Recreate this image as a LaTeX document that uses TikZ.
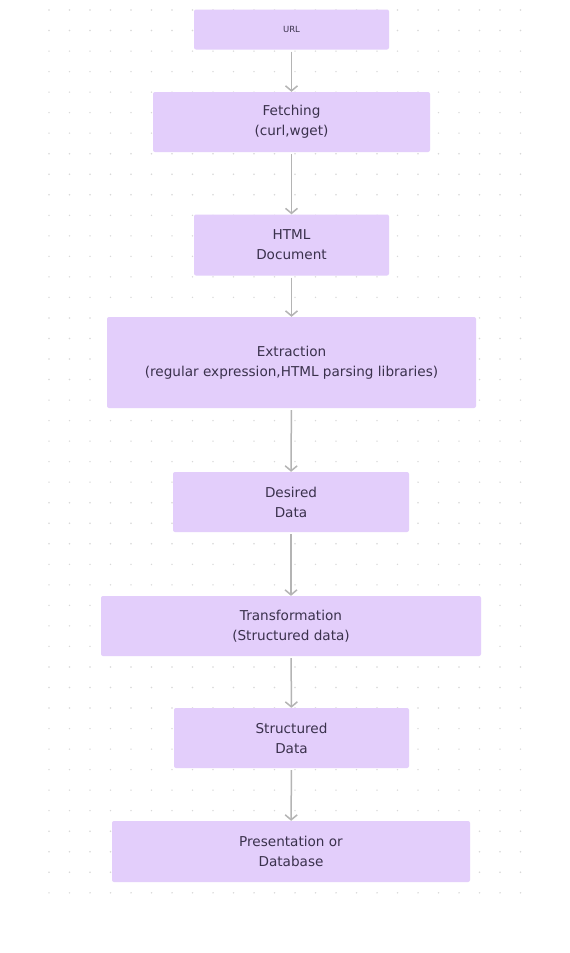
\documentclass[tikz,border=0pt]{standalone}
\usepackage{fontspec}
\setmainfont{DejaVu Sans}
\usetikzlibrary{arrows.meta}
\definecolor{boxfill}{HTML}{E3CEFB}
\definecolor{txt}{HTML}{3A314C}
\definecolor{arrowgray}{HTML}{B4B4B4}
\definecolor{dotgray}{HTML}{D8D8D8}
\begin{document}
\begin{tikzpicture}[x=1pt,y=-1pt,
  box/.style={fill=boxfill, rounded corners=2pt, inner sep=0pt, align=center, text=txt,
    font=\fontsize{13.6}{20}\selectfont},
  arr/.style={draw=arrowgray, line width=1.5pt, -{Straight Barb[length=5pt,width=12pt]}, shorten <=2pt}]
\useasboundingbox (0,0) rectangle (570,953);
\fill[white] (0,0) rectangle (570,953);
\foreach \i in {0,...,23} \foreach \j in {0,...,43} \fill[dotgray] (49+20.5*\i, 10+20.53*\j) circle (0.8pt);
\node[box, minimum width=195pt, minimum height=40pt, font=\fontsize{8.5}{10}\selectfont] (url) at (291.5,29.5) {URL};
\node[box, minimum width=277pt, minimum height=60pt] (fetch) at (291.5,122) {Fetching\\(curl,wget)};
\node[box, minimum width=195pt, minimum height=61pt] (html) at (291.5,245) {HTML\\Document};
\node[box, minimum width=369pt, minimum height=91pt] (extr) at (291.5,362.5) {Extraction\\(regular expression,HTML parsing libraries)};
\node[box, minimum width=236pt, minimum height=60pt] (desired) at (291,502) {Desired\\Data};
\node[box, minimum width=380pt, minimum height=60pt] (trans) at (291,626) {Transformation\\(Structured data)};
\node[box, minimum width=235pt, minimum height=60pt] (struct) at (291.5,738) {Structured\\Data};
\node[box, minimum width=358pt, minimum height=61pt] (pres) at (291,851.5) {Presentation or\\Database};
\draw[arr] (url) -- (fetch);
\draw[arr] (fetch) -- (html);
\draw[arr] (html) -- (extr);
\draw[arr] (extr) -- (desired);
\draw[arr] (desired) -- (trans);
\draw[arr] (trans) -- (struct);
\draw[arr] (struct) -- (pres);
\end{tikzpicture}
\end{document}
